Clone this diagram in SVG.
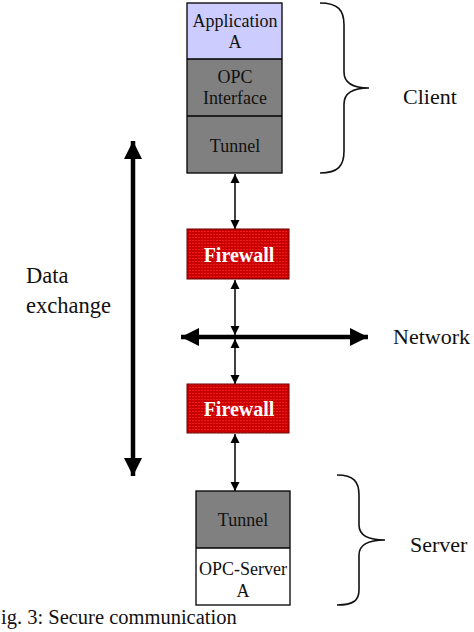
<svg xmlns="http://www.w3.org/2000/svg" width="474" height="632" viewBox="0 0 474 632">
<style>
text{font-family:"Liberation Serif","Times New Roman",serif;fill:#111;}
.lbl{font-size:22px;}
.box{font-size:18px;text-anchor:middle;}
.fw{font-size:20px;font-weight:bold;fill:#fff;text-anchor:middle;}
.edge{stroke:#000;stroke-width:1.3;fill:none;}
.thin{stroke:#000;stroke-width:1.5;}
.thick{stroke:#000;stroke-width:4.5;}
.brace{stroke:#111;stroke-width:1.6;fill:none;}
</style>
<defs>
<pattern id="brick" width="3" height="3" patternUnits="userSpaceOnUse">
<rect width="3" height="3" fill="#c80000"/>
<rect x="0" y="0" width="2" height="1" fill="#ee1c1c"/>
</pattern>
<marker id="sa" viewBox="0 0 10 10" refX="10" refY="5" markerWidth="9" markerHeight="10" markerUnits="userSpaceOnUse" orient="auto-start-reverse">
<path d="M0,0 L10,5 L0,10 Z" fill="#000"/>
</marker>
<marker id="la" viewBox="0 0 10 10" refX="10" refY="5" markerWidth="18" markerHeight="18" markerUnits="userSpaceOnUse" orient="auto-start-reverse">
<path d="M0,0 L10,5 L0,10 Z" fill="#000"/>
</marker>
</defs>

<g id="connectors">
<line class="thin" x1="235" y1="174" x2="235" y2="229" marker-start="url(#sa)" marker-end="url(#sa)"/>
<line class="thin" x1="235" y1="280" x2="235" y2="335" marker-start="url(#sa)" marker-end="url(#sa)"/>
<line class="thin" x1="235" y1="339" x2="235" y2="384" marker-start="url(#sa)" marker-end="url(#sa)"/>
<line class="thin" x1="235" y1="434" x2="235" y2="491" marker-start="url(#sa)" marker-end="url(#sa)"/>
<line class="thick" x1="181" y1="337" x2="368" y2="337" marker-start="url(#la)" marker-end="url(#la)"/>
<line class="thick" x1="133" y1="141" x2="133" y2="476" marker-start="url(#la)" marker-end="url(#la)"/>
</g>

<g id="client">
<rect x="187" y="3" width="95" height="56" fill="#ccccff"/>
<rect x="187" y="59" width="95" height="114" fill="#808080"/>
<rect class="edge" x="187" y="3" width="95" height="170"/>
<line class="edge" x1="187" y1="59" x2="282" y2="59"/>
<line class="edge" x1="187" y1="116" x2="282" y2="116"/>
<text class="box" x="235" y="27">Application</text>
<text class="box" x="235" y="48">A</text>
<text class="box" x="235" y="83">OPC</text>
<text class="box" x="235" y="104">Interface</text>
<text class="box" x="235" y="152">Tunnel</text>
</g>

<g id="firewall1">
<rect x="187" y="229" width="102" height="50" fill="url(#brick)" stroke="#600" stroke-width="1"/>
<text class="fw" x="239" y="262">Firewall</text>
</g>

<g id="firewall2">
<rect x="187" y="384" width="102" height="49" fill="url(#brick)" stroke="#600" stroke-width="1"/>
<text class="fw" x="239" y="416">Firewall</text>
</g>

<g id="server">
<rect x="196" y="491" width="94" height="57" fill="#808080"/>
<rect x="196" y="548" width="94" height="57" fill="#fff"/>
<rect class="edge" x="196" y="491" width="94" height="114"/>
<line class="edge" x1="196" y1="548" x2="290" y2="548"/>
<text class="box" x="243" y="526">Tunnel</text>
<text class="box" x="243" y="575">OPC-Server</text>
<text class="box" x="243" y="597">A</text>
</g>

<g id="client-brace">
<path class="brace" d="M320,3 C338,3 344,10 344,25 L344,72 C344,82 352,88 369,88 C352,88 344,94 344,104 L344,151 C344,166 338,173 320,173"/>
<text class="lbl" x="403" y="104">Client</text>
</g>

<g id="server-brace">
<path class="brace" d="M337,475 C354,475 359,482 359,495 L359,525 C359,534 367,540 385,540 C367,540 359,546 359,555 L359,590 C359,600 354,605 337,605"/>
<text class="lbl" x="410" y="552">Server</text>
</g>

<g id="labels">
<text class="lbl" x="26" y="283" style="font-size:22.5px">Data</text>
<text class="lbl" x="26" y="313" style="font-size:22.5px">exchange</text>
<text class="lbl" x="393" y="344">Network</text>
<text x="1" y="624" style="font-size:20.5px">ig. 3: Secure communication</text>
</g>
</svg>
